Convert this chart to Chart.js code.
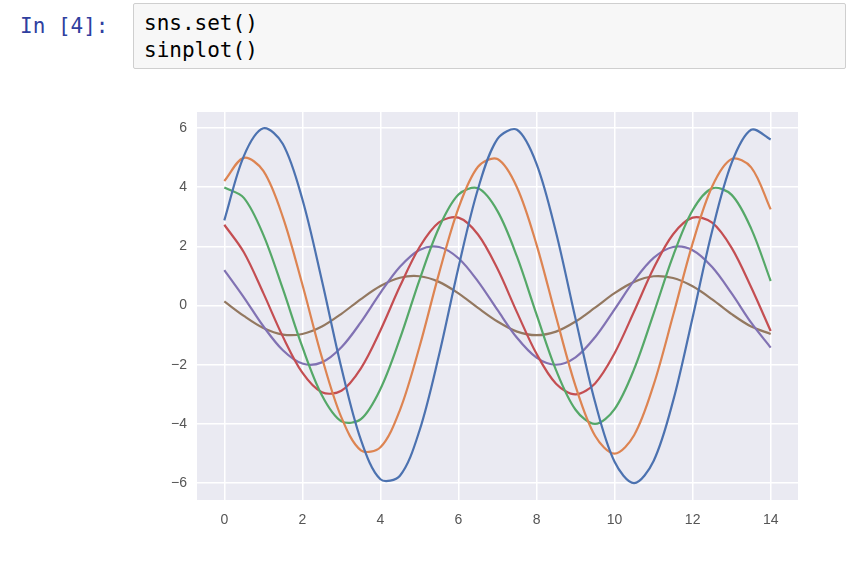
<!DOCTYPE html>
<html>
<head>
<meta charset="utf-8">
<script src="https://cdn.jsdelivr.net/npm/chart.js@4"></script>
<style>
  body { margin: 0; background: #fff; width: 856px; height: 572px; position: relative; overflow: hidden; }
  #prompt { position: absolute; left: 20px; top: 14px; font: 21px "DejaVu Sans Mono", monospace; color: #303F9F; }
  #code { position: absolute; left: 133px; top: 3px; width: 713px; height: 66px; background: #f7f7f7;
          border: 1px solid #cfcfcf; border-radius: 2px; box-sizing: border-box;
          font: 21px "DejaVu Sans Mono", monospace; color: #000; padding: 6px 0 0 10px; line-height: 27px; }
  #wrap { position: absolute; left: 0; top: 0; width: 856px; height: 572px; }
</style>
</head>
<body>
<div id="prompt">In [4]:</div>
<div id="code">sns.set()<br>sinplot()</div>
<div id="wrap"><canvas id="c"></canvas></div>
<script>
// x positions, step 0.5
var xs = [0,0.5,1,1.5,2,2.5,3,3.5,4,4.5,5,5.5,6,6.5,7,7.5,8,8.5,9,9.5,10,10.5,11,11.5,12,12.5,13,13.5,14];

var blue   = [2.88,5.05,5.99,5.46,3.59,0.85,-2.10,-4.54,-5.87,-5.75,-4.23,-1.68,1.29,3.94,5.63,5.94,4.79,2.47,-0.45,-3.26,-5.28,-6.00,-5.25,-3.22,-0.40,2.52,4.82,5.94,5.61];
var orange = [4.21,4.99,4.55,2.99,0.71,-1.75,-3.78,-4.89,-4.79,-3.53,-1.40,1.08,3.29,4.69,4.95,3.99,2.06,-0.38,-2.72,-4.40,-5.00,-4.38,-2.68,-0.33,2.10,4.02,4.95,4.67,3.25];
var green  = [3.99,3.64,2.39,0.56,-1.40,-3.03,-3.91,-3.84,-2.82,-1.12,0.86,2.63,3.75,3.96,3.19,1.65,-0.30,-2.18,-3.52,-4.00,-3.50,-2.15,-0.27,1.68,3.22,3.96,3.74,2.60,0.83];
var red    = [2.73,1.80,0.42,-1.05,-2.27,-2.93,-2.88,-2.12,-0.84,0.65,1.97,2.81,2.97,2.40,1.24,-0.23,-1.63,-2.64,-3.00,-2.63,-1.61,-0.20,1.26,2.41,2.97,2.80,1.95,0.62,-0.86];
var purple = [1.20,0.28,-0.70,-1.51,-1.96,-1.92,-1.41,-0.56,0.43,1.31,1.88,1.98,1.60,0.82,-0.15,-1.09,-1.76,-2.00,-1.75,-1.07,-0.13,0.84,1.61,1.98,1.87,1.30,0.41,-0.58,-1.42];
var brown  = [0.14,-0.35,-0.76,-0.98,-0.96,-0.71,-0.28,0.22,0.66,0.94,0.99,0.80,0.41,-0.08,-0.54,-0.88,-1.00,-0.88,-0.54,-0.07,0.42,0.80,0.99,0.93,0.65,0.21,-0.29,-0.71,-0.96];

var xTicks = [0,2,4,6,8,10,12,14];
var yTicks = [-6,-4,-2,0,2,4,6];

var series = [blue, orange, green, red, purple, brown];
var colors = ['#4C72B0','#DD8452','#55A868','#C44E52','#8172B3','#937860'];

function pts(ys) {
    return xs.map(function (x, i) { return { x: x, y: ys[i] }; });
}

// fond gris façon seaborn
var bgPlugin = {
    id: 'bg',
    beforeDraw: function (chart) {
        var a = chart.chartArea, c = chart.ctx;
        c.save();
        c.fillStyle = '#EAEAF2';
        c.fillRect(a.left, a.top, a.right - a.left, a.bottom - a.top);
        c.restore();
    }
};

new Chart(document.getElementById('c'), {
    type: 'line',
    data: {
        datasets: series.map(function (s, i) {
            return { data: pts(s), borderColor: colors[i], borderWidth: 2.2, pointRadius: 0, tension: 0.33, fill: false };
        })
    },
    options: {
        responsive: true, maintainAspectRatio: false, animation: false,
        layout: { padding: { left: 157, right: 58, top: 112, bottom: 32 } },
        plugins: { legend: { display: false }, tooltip: { enabled: false } },
        scales: {
            x: {
                type: 'linear', min: -0.7, max: 14.7,
                afterFit: function (s) { s.height = 40; },
                afterBuildTicks: function (s) { s.ticks = xTicks.map(function (v) { return { value: v }; }); },
                grid: { color: '#ffffff', lineWidth: 1.5, drawTicks: false },
                border: { display: false },
                ticks: { color: '#555', padding: 12, font: { family: 'Liberation Sans, Arial', size: 14 } }
            },
            y: {
                min: -6.57, max: 6.54,
                afterFit: function (s) { s.width = 40; },
                afterBuildTicks: function (s) { s.ticks = yTicks.map(function (v) { return { value: v }; }); },
                grid: { color: '#ffffff', lineWidth: 1.5, drawTicks: false },
                border: { display: false },
                ticks: {
                    color: '#555', padding: 10, font: { family: 'Liberation Sans, Arial', size: 14 },
                    callback: function (v) { return v < 0 ? '\u2212' + Math.abs(v) : String(v); }
                }
            }
        }
    },
    plugins: [bgPlugin]
});
</script>
</body>
</html>
